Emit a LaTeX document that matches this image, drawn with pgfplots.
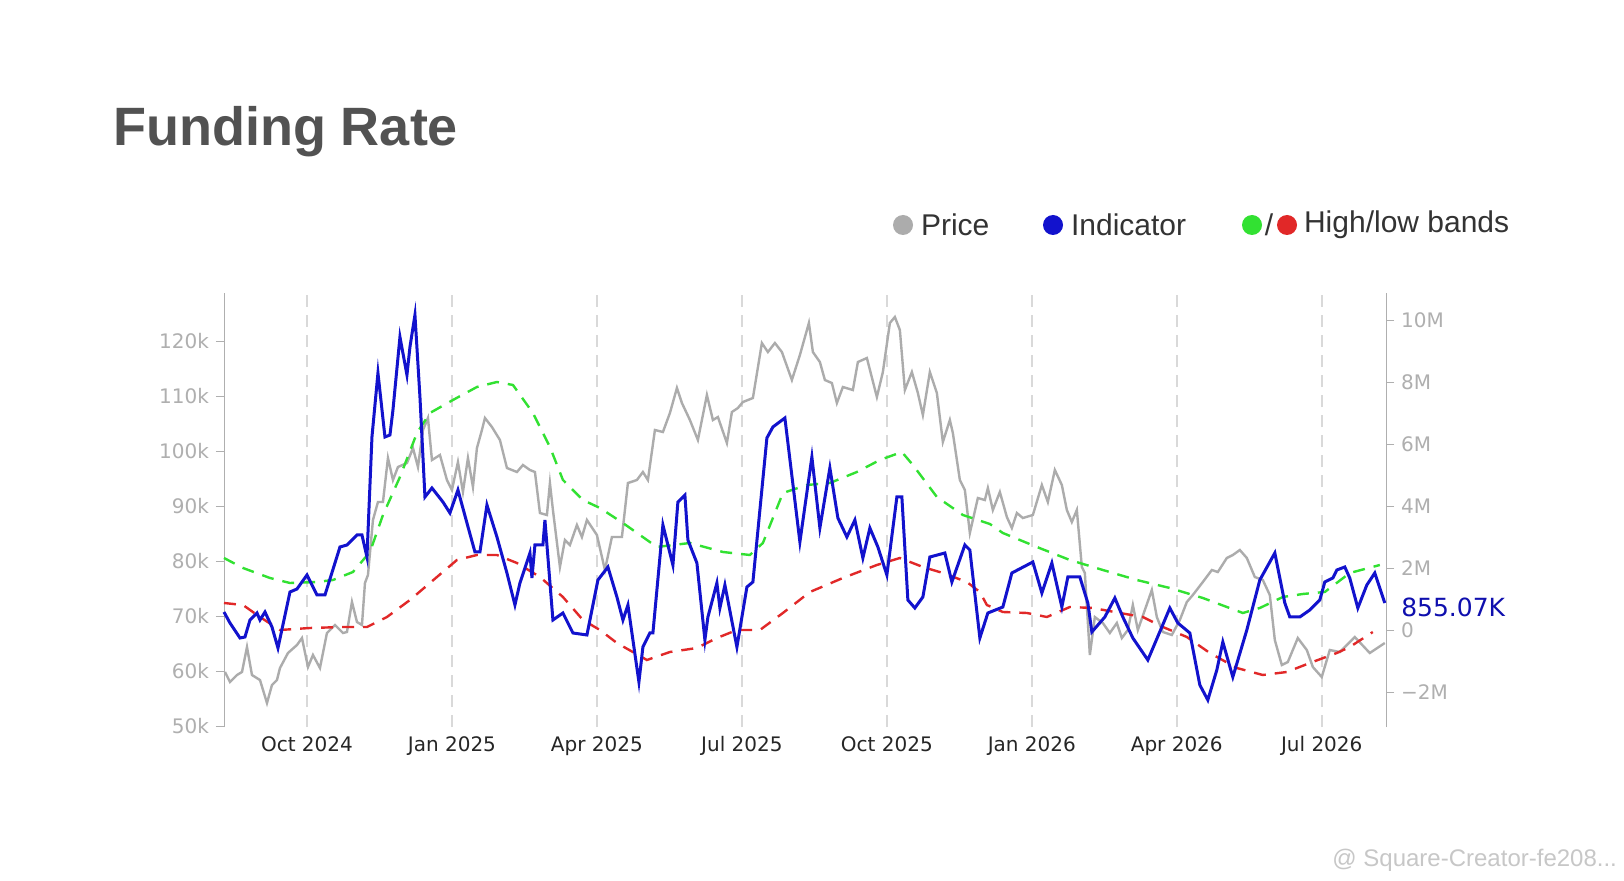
\documentclass[border=0pt]{standalone}
\usepackage{pgfplots}
\usepackage{pgfplotstable}
\pgfplotsset{compat=1.18}
\usepackage{fontspec}
\setmainfont{Liberation Sans}
\newfontfamily\tickfont{DejaVu Sans}
\definecolor{pricegray}{RGB}{172,172,172}
\definecolor{indblue}{RGB}{18,18,205}
\definecolor{bandgreen}{RGB}{50,225,50}
\definecolor{bandred}{RGB}{225,40,40}
\definecolor{titlegray}{RGB}{82,82,82}
\definecolor{axgray}{RGB}{175,175,175}
% data: columns are horizontal and vertical positions (pixels)
\pgfplotstableread[row sep=\\]{
px py\\
224 612\\230 623\\240 638\\245 637\\250 620\\257 613\\260 620\\265 612\\272 627\\278 648\\290 592\\297 589\\307 575\\317 595\\325 595\\340 547\\347 545\\357 535\\362 535\\367 557\\372 437\\378 373\\385 437\\390 435\\393 410\\400 337\\407 375\\410 347\\415 315\\420 397\\425 497\\432 488\\443 502\\450 513\\458 490\\467 523\\475 552\\480 552\\487 505\\497 537\\507 573\\515 605\\520 583\\530 553\\532 578\\535 545\\543 545\\545 520\\553 620\\563 613\\573 633\\587 635\\598 580\\608 567\\617 597\\623 620\\628 605\\633 640\\639 682\\643 647\\650 633\\653 633\\663 525\\673 565\\678 502\\685 495\\688 540\\697 563\\705 640\\708 617\\717 583\\720 608\\725 585\\737 647\\747 587\\753 582\\767 438\\773 427\\785 418\\800 542\\812 457\\820 528\\830 468\\838 518\\847 537\\855 520\\863 558\\870 528\\878 547\\887 575\\897 497\\902 497\\908 600\\915 608\\923 597\\930 557\\945 553\\952 582\\965 545\\970 550\\980 638\\988 613\\1003 607\\1012 573\\1033 562\\1042 593\\1052 563\\1062 607\\1068 577\\1080 577\\1088 603\\1092 632\\1105 617\\1115 598\\1123 617\\1133 638\\1148 660\\1162 627\\1170 608\\1178 623\\1190 633\\1200 685\\1208 700\\1217 670\\1223 642\\1233 677\\1247 630\\1260 580\\1275 553\\1285 603\\1290 617\\1300 617\\1310 610\\1320 600\\1325 582\\1333 578\\1337 570\\1345 567\\1350 578\\1358 608\\1367 585\\1375 573\\1385 603\\
}\indicator
\pgfplotstableread[row sep=\\]{
px py\\
225 672\\230 682\\237 675\\242 672\\247 647\\252 675\\260 680\\267 703\\272 685\\277 680\\280 668\\288 653\\297 645\\302 638\\308 667\\313 655\\320 668\\327 633\\335 625\\343 633\\347 632\\352 602\\357 622\\362 625\\365 583\\368 575\\373 520\\378 502\\383 502\\388 458\\393 480\\398 467\\407 463\\413 448\\418 467\\423 430\\428 418\\432 460\\440 455\\447 480\\452 490\\458 462\\463 492\\468 458\\473 487\\477 448\\482 430\\485 418\\492 427\\500 440\\507 468\\517 472\\523 465\\530 470\\535 472\\540 513\\547 515\\550 483\\553 510\\560 567\\565 540\\570 545\\577 525\\582 537\\587 520\\597 535\\605 570\\612 537\\622 537\\628 483\\637 480\\643 472\\648 480\\655 430\\663 432\\670 413\\677 388\\682 403\\690 420\\698 440\\707 395\\713 420\\718 417\\727 443\\732 412\\738 408\\743 402\\753 398\\762 343\\768 352\\775 343\\782 352\\792 380\\800 355\\809 323\\813 352\\820 362\\825 380\\832 383\\837 403\\843 387\\853 390\\858 362\\867 358\\877 397\\883 372\\890 323\\895 317\\900 330\\905 390\\912 372\\918 393\\923 415\\930 372\\937 393\\943 442\\950 420\\953 433\\960 480\\965 490\\970 533\\978 498\\985 500\\988 488\\993 510\\1000 492\\1007 517\\1012 528\\1017 513\\1023 518\\1033 515\\1042 485\\1048 502\\1055 470\\1062 485\\1067 510\\1072 522\\1077 510\\1082 567\\1085 573\\1090 655\\1095 617\\1103 623\\1110 633\\1117 623\\1122 638\\1128 630\\1133 605\\1138 630\\1145 610\\1152 590\\1157 617\\1163 632\\1172 635\\1180 620\\1187 602\\1193 595\\1203 582\\1212 570\\1218 572\\1227 558\\1233 555\\1240 550\\1247 558\\1255 577\\1263 580\\1270 595\\1275 640\\1282 665\\1288 662\\1298 638\\1307 650\\1313 667\\1322 677\\1330 650\\1340 652\\1355 637\\1370 653\\1385 643\\
}\price
\pgfplotstableread[row sep=\\]{
px py\\
224 558\\243 568\\270 578\\290 583\\317 582\\333 580\\353 572\\370 552\\383 515\\400 477\\417 433\\430 413\\453 400\\477 387\\497 382\\513 385\\533 413\\550 447\\563 480\\583 500\\600 508\\623 523\\657 547\\690 543\\723 552\\750 555\\763 543\\783 493\\807 485\\830 483\\857 472\\880 460\\902 452\\913 465\\937 497\\963 515\\990 524\\1003 533\\1037 547\\1070 560\\1103 570\\1137 580\\1170 588\\1203 598\\1243 613\\1260 608\\1283 597\\1303 594\\1325 592\\1350 573\\1380 565\\
}\highband
\pgfplotstableread[row sep=\\]{
px py\\
224 603\\243 605\\260 617\\280 630\\310 628\\343 627\\367 627\\387 617\\410 600\\437 577\\457 560\\477 555\\497 555\\517 563\\540 577\\563 597\\583 620\\600 630\\617 643\\647 660\\670 652\\697 648\\717 638\\737 630\\760 630\\783 613\\810 592\\843 578\\877 565\\900 558\\923 567\\943 573\\967 582\\980 592\\987 605\\1003 612\\1027 613\\1047 617\\1070 607\\1093 608\\1120 613\\1143 617\\1163 627\\1187 637\\1210 653\\1237 668\\1263 675\\1287 672\\1310 663\\1337 653\\1350 647\\1373 632\\
}\lowband
\begin{document}
\begin{tikzpicture}
\begin{scope}[x=0.5pt,y=0.5pt]
\path[fill=white] (0,0) rectangle (1624,880);
% title
\node[anchor=west,font=\bfseries\fontsize{27}{31}\selectfont,text=titlegray] at (106,748) {Funding Rate};
% legend
\fill[pricegray] (903,655) circle (10);
\node[anchor=west,font=\fontsize{15}{18}\selectfont,text=black!80] at (914,655) {Price};
\fill[indblue] (1053,655) circle (10);
\node[anchor=west,font=\fontsize{15}{18}\selectfont,text=black!80] at (1064,655) {Indicator};
\fill[bandgreen] (1252,655) circle (10);
\node[font=\fontsize{15}{18}\selectfont,text=black!80] at (1269,655) {/};
\fill[bandred] (1287,655) circle (10);
\node[anchor=west,font=\fontsize{15}{18}\selectfont,text=black!80] at (1297,655) {High/low bands};
% watermark
\node[anchor=east,font=\fontsize{12}{14}\selectfont,text=black!22] at (1624,20) {@ Square-Creator-fe208...};
\end{scope}
\begin{axis}[
  at={(112pt,76.5pt)}, anchor=south west, scale only axis,
  width=581pt, height=217pt,
  xmin=-1.717, xmax=22.33, ymin=49.82, ymax=128.73,
  axis lines=left, axis line style={-, draw=axgray},
  x axis line style={draw=none},
  xtick={0,3,6,9,12,15,18,21},
  xticklabels={Oct 2024,Jan 2025,Apr 2025,Jul 2025,Oct 2025,Jan 2026,Apr 2026,Jul 2026},
  xmajorgrids, grid style={draw=black!15, dash pattern=on 6pt off 4pt, line width=0.8pt},
  major x tick style={draw=none},
  ytick={50,60,70,80,90,100,110,120},
  yticklabels={50k,60k,70k,80k,90k,100k,110k,120k},
  major y tick style={draw=axgray},
  tick align=outside, major tick length=4pt,
  yticklabel style={font=\tickfont\fontsize{10}{12}\selectfont, text=axgray},
  xticklabel style={font=\tickfont\fontsize{10}{12}\selectfont, text=black!85, yshift=3pt, text height=7.5pt, text depth=2pt},
]
\addplot[pricegray, line width=1.2pt] table[x expr={(\thisrowno{0}-307)/48.33}, y expr={120-(\thisrowno{1}-341)/5.5}] {\price};
\end{axis}
\begin{axis}[
  at={(112pt,76.5pt)}, anchor=south west, scale only axis,
  width=581pt, height=217pt,
  xmin=-1.717, xmax=22.33, ymin=-3.129, ymax=10.87,
  axis x line=none, axis y line=right, axis line style={-, draw=axgray},
  ytick={-2,0,2,4,6,8,10},
  yticklabels={−2M,0,2M,4M,6M,8M,10M},
  major y tick style={draw=axgray},
  tick align=outside, major tick length=4pt,
  yticklabel style={font=\tickfont\fontsize{10}{12}\selectfont, text=axgray},
  clip=false,
]
\addplot[bandgreen, line width=1.2pt, dash pattern=on 6pt off 4.5pt] table[x expr={(\thisrowno{0}-307)/48.33}, y expr={(630-\thisrowno{1})/31}] {\highband};
\addplot[bandred, line width=1.2pt, dash pattern=on 6pt off 4.5pt] table[x expr={(\thisrowno{0}-307)/48.33}, y expr={(630-\thisrowno{1})/31}] {\lowband};
\addplot[indblue, line width=1.5pt] table[x expr={(\thisrowno{0}-307)/48.33}, y expr={(630-\thisrowno{1})/31}] {\indicator};
\node[anchor=west, font=\tickfont\fontsize{12.5}{14}\selectfont, text=indblue!85!black] at (axis cs:22.5,0.72) {855.07K};
\end{axis}
\end{tikzpicture}
\end{document}
